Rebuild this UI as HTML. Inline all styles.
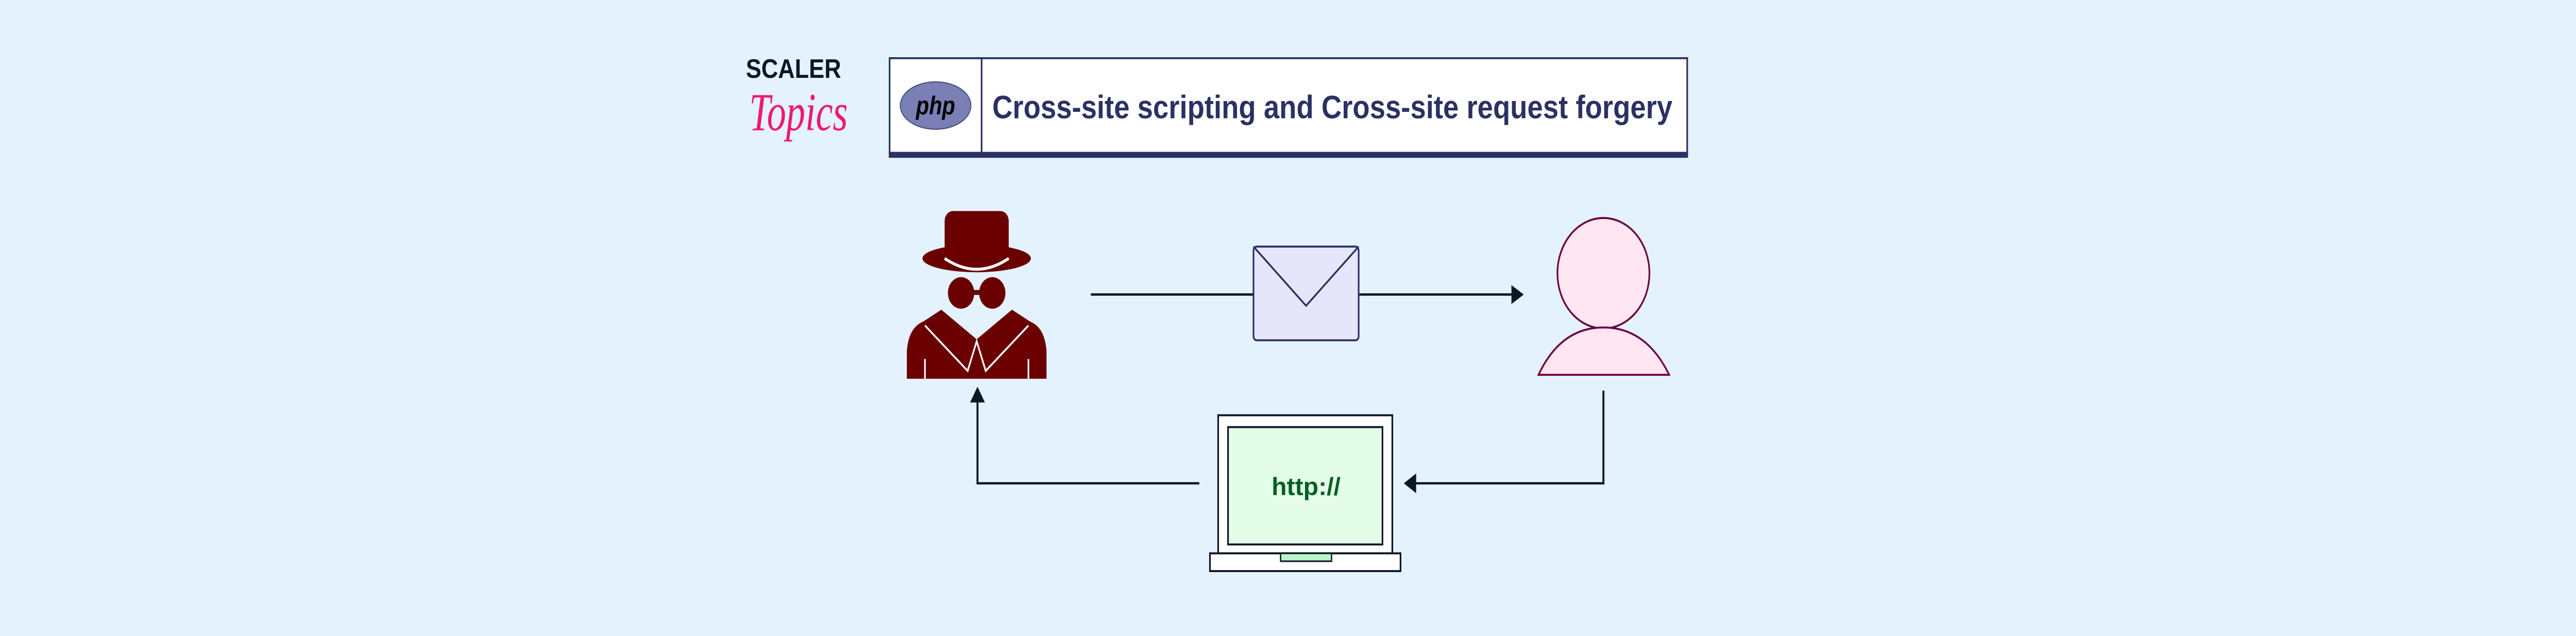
<!DOCTYPE html>
<html><head><meta charset="utf-8"><style>
html,body{margin:0;padding:0;background:#e4f2fe;width:100%;height:100%;overflow:hidden;}
svg{display:block;position:fixed;left:0;top:0;width:100vw;height:100vh}
</style></head><body>
<svg viewBox="0 0 1568 322.4" preserveAspectRatio="none" xmlns="http://www.w3.org/2000/svg">
<rect width="1568" height="322.4" fill="#e4f2fe"/>
<text x="454" y="39.5" textLength="58" lengthAdjust="spacingAndGlyphs" font-family="Liberation Sans, sans-serif" font-weight="bold" font-size="13.5" fill="#0b1628">SCALER</text>
<text x="456" y="66" textLength="60" lengthAdjust="spacingAndGlyphs" font-family="Liberation Serif, serif" font-style="italic" font-size="27" fill="#ec1a72">Topics</text>
<rect x="541.5" y="29.5" width="485.5" height="48" fill="#fff" stroke="#2b3164" stroke-width="1"/>
<rect x="541" y="77" width="486.5" height="3" fill="#2b3164"/>
<line x1="597.5" y1="29.5" x2="597.5" y2="77" stroke="#2b3164" stroke-width="1"/>
<ellipse cx="569.5" cy="53.5" rx="21.5" ry="12" fill="#7a7fb6" stroke="#4b4f80" stroke-width="0.6"/>
<text x="569.5" y="58" text-anchor="middle" font-family="Liberation Sans, sans-serif" font-weight="bold" font-style="italic" font-size="13" fill="#000">php</text>
<text x="604" y="60" textLength="414" lengthAdjust="spacingAndGlyphs" font-family="Liberation Sans, sans-serif" font-weight="bold" font-size="16.5" fill="#2b3164">Cross-site scripting and Cross-site request forgery</text>
<g fill="#6b0000">
<rect x="575" y="107" width="39" height="26" rx="5"/>
<ellipse cx="594.5" cy="131" rx="33" ry="7"/>
<path d="M575 131 Q594.5 142 614 131" stroke="#fff" stroke-width="1.5" fill="none"/>
<circle cx="585" cy="148.5" r="8"/>
<circle cx="604" cy="148.5" r="8"/>
<rect x="590" y="147" width="10" height="2.5"/>
<path d="M552 192 L552 178 Q553 166 562 163 L573 157 L594.5 172 L616 157 L627 163 Q636 166 637 178 L637 192 Z"/>
<path d="M563 165 L589 188 L594.5 173 L600 188 L626 165" stroke="#fff" stroke-width="1" fill="none"/>
<line x1="563" y1="182" x2="563" y2="192" stroke="#fff" stroke-width="1"/>
<line x1="626" y1="182" x2="626" y2="192" stroke="#fff" stroke-width="1"/>
</g>
<line x1="664" y1="149.3" x2="921" y2="149.3" stroke="#0b1628" stroke-width="1.2"/>
<path d="M927.5 149.3 L920 144.5 L920 154.1 Z" fill="#0b1628"/>
<rect x="763" y="125" width="64" height="47.5" rx="2" fill="#e6e6fa" stroke="#2b3164" stroke-width="1"/>
<path d="M763 125 L795 155 L827 125" fill="none" stroke="#2b3164" stroke-width="1"/>
<circle cx="976" cy="138.5" r="28" fill="#ffe6f0" stroke="#6b0040" stroke-width="1"/>
<path d="M936.5 190 Q950 166 976 166 Q1002 166 1016 190 Z" fill="#ffe6f0" stroke="#6b0040" stroke-width="1"/>
<polyline points="976,198 976,245 861,245" fill="none" stroke="#0b1628" stroke-width="1.2"/>
<path d="M854.5 245 L862 240 L862 250 Z" fill="#0b1628"/>
<polyline points="730,245 595,245 595,203" fill="none" stroke="#0b1628" stroke-width="1.2"/>
<path d="M595 196 L590.5 204 L599.5 204 Z" fill="#0b1628"/>
<rect x="741.5" y="210.5" width="106" height="70" fill="#fff" stroke="#0b1628" stroke-width="1"/>
<rect x="747.5" y="216.5" width="94" height="59.5" fill="#e4fde8" stroke="#0b1628" stroke-width="1"/>
<text x="774" y="251" textLength="42" lengthAdjust="spacingAndGlyphs" font-family="Liberation Sans, sans-serif" font-weight="bold" font-size="12.5" fill="#006020">http://</text>
<rect x="736.5" y="280.5" width="116" height="9" fill="#fff" stroke="#0b1628" stroke-width="1"/>
<rect x="779.5" y="280.5" width="31" height="4" fill="#b8f5c8" stroke="#0b1628" stroke-width="0.8"/>
</svg>
</body></html>
